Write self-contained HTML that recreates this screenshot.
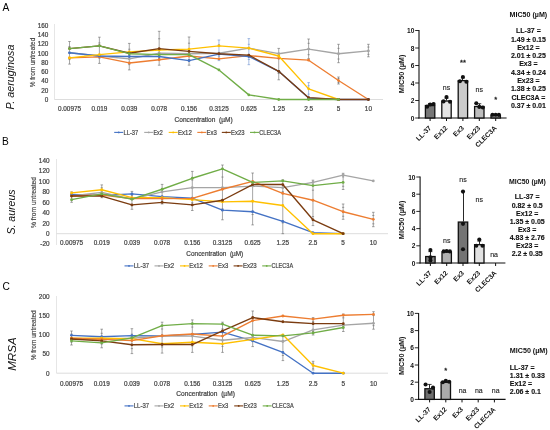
<!DOCTYPE html>
<html><head><meta charset="utf-8"><style>
html,body{margin:0;padding:0;background:#fff;overflow:hidden}
svg{display:block;font-family:"Liberation Sans", sans-serif;will-change:transform}
</style></head><body>
<svg width="550" height="430" viewBox="0 0 550 430">
<rect width="550" height="430" fill="#fff"/>
<line x1="54.5" y1="24" x2="54.5" y2="99.5" stroke="#dedede" stroke-width="0.75"/>
<line x1="54.5" y1="99.5" x2="383" y2="99.5" stroke="#d9d9d9" stroke-width="0.9"/>
<text x="48.30" y="101.80" font-size="6.4" text-anchor="end" font-weight="normal" font-style="normal" fill="#454545" stroke="#454545" stroke-width="0.22">0</text>
<text x="48.30" y="92.55" font-size="6.4" text-anchor="end" font-weight="normal" font-style="normal" fill="#454545" stroke="#454545" stroke-width="0.22">20</text>
<text x="48.30" y="83.30" font-size="6.4" text-anchor="end" font-weight="normal" font-style="normal" fill="#454545" stroke="#454545" stroke-width="0.22">40</text>
<text x="48.30" y="74.05" font-size="6.4" text-anchor="end" font-weight="normal" font-style="normal" fill="#454545" stroke="#454545" stroke-width="0.22">60</text>
<text x="48.30" y="64.80" font-size="6.4" text-anchor="end" font-weight="normal" font-style="normal" fill="#454545" stroke="#454545" stroke-width="0.22">80</text>
<text x="48.30" y="55.55" font-size="6.4" text-anchor="end" font-weight="normal" font-style="normal" fill="#454545" stroke="#454545" stroke-width="0.22">100</text>
<text x="48.30" y="46.30" font-size="6.4" text-anchor="end" font-weight="normal" font-style="normal" fill="#454545" stroke="#454545" stroke-width="0.22">120</text>
<text x="48.30" y="37.05" font-size="6.4" text-anchor="end" font-weight="normal" font-style="normal" fill="#454545" stroke="#454545" stroke-width="0.22">140</text>
<text x="48.30" y="27.80" font-size="6.4" text-anchor="end" font-weight="normal" font-style="normal" fill="#454545" stroke="#454545" stroke-width="0.22">160</text>
<text x="69.50" y="110.90" font-size="6.4" text-anchor="middle" font-weight="normal" font-style="normal" fill="#454545" stroke="#454545" stroke-width="0.22">0.00975</text>
<text x="99.39" y="110.90" font-size="6.4" text-anchor="middle" font-weight="normal" font-style="normal" fill="#454545" stroke="#454545" stroke-width="0.22">0.019</text>
<text x="129.28" y="110.90" font-size="6.4" text-anchor="middle" font-weight="normal" font-style="normal" fill="#454545" stroke="#454545" stroke-width="0.22">0.039</text>
<text x="159.17" y="110.90" font-size="6.4" text-anchor="middle" font-weight="normal" font-style="normal" fill="#454545" stroke="#454545" stroke-width="0.22">0.078</text>
<text x="189.06" y="110.90" font-size="6.4" text-anchor="middle" font-weight="normal" font-style="normal" fill="#454545" stroke="#454545" stroke-width="0.22">0.156</text>
<text x="218.95" y="110.90" font-size="6.4" text-anchor="middle" font-weight="normal" font-style="normal" fill="#454545" stroke="#454545" stroke-width="0.22">0.3125</text>
<text x="248.84" y="110.90" font-size="6.4" text-anchor="middle" font-weight="normal" font-style="normal" fill="#454545" stroke="#454545" stroke-width="0.22">0.625</text>
<text x="278.73" y="110.90" font-size="6.4" text-anchor="middle" font-weight="normal" font-style="normal" fill="#454545" stroke="#454545" stroke-width="0.22">1.25</text>
<text x="308.62" y="110.90" font-size="6.4" text-anchor="middle" font-weight="normal" font-style="normal" fill="#454545" stroke="#454545" stroke-width="0.22">2.5</text>
<text x="338.51" y="110.90" font-size="6.4" text-anchor="middle" font-weight="normal" font-style="normal" fill="#454545" stroke="#454545" stroke-width="0.22">5</text>
<text x="368.40" y="110.90" font-size="6.4" text-anchor="middle" font-weight="normal" font-style="normal" fill="#454545" stroke="#454545" stroke-width="0.22">10</text>
<text x="32.30" y="62.50" font-size="6.4" text-anchor="middle" font-weight="normal" font-style="normal" fill="#454545" stroke="#454545" stroke-width="0.15" textLength="49.5" lengthAdjust="spacingAndGlyphs" transform="rotate(-90 32.30 62.50)" dominant-baseline="central">% from untreated</text>
<text x="203.60" y="122.30" font-size="6.8" text-anchor="middle" font-weight="normal" font-style="normal" fill="#454545" stroke="#454545" stroke-width="0.22" textLength="58" lengthAdjust="spacingAndGlyphs">Concentration&#160;&#160;(µM)</text>
<line x1="114.2" y1="132.4" x2="123.2" y2="132.4" stroke="#4472C4" stroke-width="1.1"/>
<circle cx="118.7" cy="132.4" r="0.9" fill="#4472C4"/>
<text x="123.50" y="134.70" font-size="6.8" text-anchor="start" font-weight="normal" font-style="normal" fill="#454545" stroke="#454545" stroke-width="0.2" textLength="14.7" lengthAdjust="spacingAndGlyphs">LL-37</text>
<line x1="144.2" y1="132.4" x2="153.2" y2="132.4" stroke="#A5A5A5" stroke-width="1.1"/>
<circle cx="148.7" cy="132.4" r="0.9" fill="#A5A5A5"/>
<text x="153.50" y="134.70" font-size="6.8" text-anchor="start" font-weight="normal" font-style="normal" fill="#454545" stroke="#454545" stroke-width="0.2" textLength="9.2" lengthAdjust="spacingAndGlyphs">Ex2</text>
<line x1="168.7" y1="132.4" x2="177.7" y2="132.4" stroke="#FFC000" stroke-width="1.1"/>
<circle cx="173.2" cy="132.4" r="0.9" fill="#FFC000"/>
<text x="178.00" y="134.70" font-size="6.8" text-anchor="start" font-weight="normal" font-style="normal" fill="#454545" stroke="#454545" stroke-width="0.2" textLength="13.8" lengthAdjust="spacingAndGlyphs">Ex12</text>
<line x1="197.3" y1="132.4" x2="206.3" y2="132.4" stroke="#ED7D31" stroke-width="1.1"/>
<circle cx="201.8" cy="132.4" r="0.9" fill="#ED7D31"/>
<text x="206.60" y="134.70" font-size="6.8" text-anchor="start" font-weight="normal" font-style="normal" fill="#454545" stroke="#454545" stroke-width="0.2" textLength="10.3" lengthAdjust="spacingAndGlyphs">Ex3</text>
<line x1="221.8" y1="132.4" x2="230.8" y2="132.4" stroke="#7B3C10" stroke-width="1.1"/>
<circle cx="226.3" cy="132.4" r="0.9" fill="#7B3C10"/>
<text x="231.10" y="134.70" font-size="6.8" text-anchor="start" font-weight="normal" font-style="normal" fill="#454545" stroke="#454545" stroke-width="0.2" textLength="13.4" lengthAdjust="spacingAndGlyphs">Ex23</text>
<line x1="250" y1="132.4" x2="259" y2="132.4" stroke="#70AD47" stroke-width="1.1"/>
<circle cx="254.5" cy="132.4" r="0.9" fill="#70AD47"/>
<text x="259.30" y="134.70" font-size="6.8" text-anchor="start" font-weight="normal" font-style="normal" fill="#454545" stroke="#454545" stroke-width="0.2" textLength="21.6" lengthAdjust="spacingAndGlyphs">CLEC3A</text>
<g stroke="#6a6a6a" stroke-width="0.6"><line x1="69.5" y1="41.5" x2="69.5" y2="64.1"/><line x1="68.2" y1="41.5" x2="70.8" y2="41.5"/><line x1="68.2" y1="64.1" x2="70.8" y2="64.1"/><line x1="68.4" y1="46.47" x2="70.6" y2="46.47"/><line x1="68.4" y1="59.58" x2="70.6" y2="59.58"/></g>
<g stroke="#6a6a6a" stroke-width="0.6"><line x1="99.39" y1="37.2" x2="99.39" y2="63.4"/><line x1="98.09" y1="37.2" x2="100.69" y2="37.2"/><line x1="98.09" y1="63.4" x2="100.69" y2="63.4"/><line x1="98.29" y1="42.96" x2="100.49" y2="42.96"/><line x1="98.29" y1="58.16" x2="100.49" y2="58.16"/></g>
<g stroke="#6a6a6a" stroke-width="0.6"><line x1="129.28" y1="43.4" x2="129.28" y2="69.9"/><line x1="127.98" y1="43.4" x2="130.58" y2="43.4"/><line x1="127.98" y1="69.9" x2="130.58" y2="69.9"/><line x1="128.18" y1="49.23" x2="130.38" y2="49.23"/><line x1="128.18" y1="64.60" x2="130.38" y2="64.60"/></g>
<g stroke="#6a6a6a" stroke-width="0.6"><line x1="159.17000000000002" y1="31.3" x2="159.17000000000002" y2="65.2"/><line x1="157.87" y1="31.3" x2="160.47000000000003" y2="31.3"/><line x1="157.87" y1="65.2" x2="160.47000000000003" y2="65.2"/><line x1="158.07000000000002" y1="38.76" x2="160.27" y2="38.76"/><line x1="158.07000000000002" y1="58.42" x2="160.27" y2="58.42"/></g>
<g stroke="#6a6a6a" stroke-width="0.6"><line x1="189.06" y1="37" x2="189.06" y2="65.2"/><line x1="187.76" y1="37" x2="190.36" y2="37"/><line x1="187.76" y1="65.2" x2="190.36" y2="65.2"/><line x1="187.96" y1="43.20" x2="190.16" y2="43.20"/><line x1="187.96" y1="59.56" x2="190.16" y2="59.56"/></g>
<g stroke="#6a8fd0" stroke-width="0.6"><line x1="218.95" y1="40" x2="218.95" y2="60.6"/><line x1="217.64999999999998" y1="40" x2="220.25" y2="40"/><line x1="217.64999999999998" y1="60.6" x2="220.25" y2="60.6"/><line x1="217.85" y1="44.53" x2="220.04999999999998" y2="44.53"/><line x1="217.85" y1="56.48" x2="220.04999999999998" y2="56.48"/></g>
<g stroke="#6a8fd0" stroke-width="0.6"><line x1="248.84" y1="38.6" x2="248.84" y2="64.7"/><line x1="247.54" y1="38.6" x2="250.14000000000001" y2="38.6"/><line x1="247.54" y1="64.7" x2="250.14000000000001" y2="64.7"/><line x1="247.74" y1="44.34" x2="249.94" y2="44.34"/><line x1="247.74" y1="59.48" x2="249.94" y2="59.48"/></g>
<g stroke="#6a6a6a" stroke-width="0.6"><line x1="278.73" y1="48.4" x2="278.73" y2="79.8"/><line x1="277.43" y1="48.4" x2="280.03000000000003" y2="48.4"/><line x1="277.43" y1="79.8" x2="280.03000000000003" y2="79.8"/><line x1="277.63" y1="55.31" x2="279.83000000000004" y2="55.31"/><line x1="277.63" y1="73.52" x2="279.83000000000004" y2="73.52"/></g>
<g stroke="#6a6a6a" stroke-width="0.6"><line x1="308.62" y1="39" x2="308.62" y2="58.6"/><line x1="307.32" y1="39" x2="309.92" y2="39"/><line x1="307.32" y1="58.6" x2="309.92" y2="58.6"/><line x1="307.52" y1="43.31" x2="309.72" y2="43.31"/><line x1="307.52" y1="54.68" x2="309.72" y2="54.68"/></g>
<g stroke="#6a8fd0" stroke-width="0.6"><line x1="308.62" y1="82.6" x2="308.62" y2="97"/><line x1="307.32" y1="82.6" x2="309.92" y2="82.6"/><line x1="307.32" y1="97" x2="309.92" y2="97"/><line x1="307.52" y1="85.77" x2="309.72" y2="85.77"/><line x1="307.52" y1="94.12" x2="309.72" y2="94.12"/></g>
<g stroke="#6a6a6a" stroke-width="0.6"><line x1="338.51" y1="44.3" x2="338.51" y2="62.7"/><line x1="337.21" y1="44.3" x2="339.81" y2="44.3"/><line x1="337.21" y1="62.7" x2="339.81" y2="62.7"/><line x1="337.40999999999997" y1="48.35" x2="339.61" y2="48.35"/><line x1="337.40999999999997" y1="59.02" x2="339.61" y2="59.02"/></g>
<g stroke="#6a6a6a" stroke-width="0.6"><line x1="338.51" y1="77" x2="338.51" y2="84"/><line x1="337.21" y1="77" x2="339.81" y2="77"/><line x1="337.21" y1="84" x2="339.81" y2="84"/><line x1="337.40999999999997" y1="78.54" x2="339.61" y2="78.54"/><line x1="337.40999999999997" y1="82.60" x2="339.61" y2="82.60"/></g>
<g stroke="#6a6a6a" stroke-width="0.6"><line x1="368.4" y1="44.3" x2="368.4" y2="56.8"/><line x1="367.09999999999997" y1="44.3" x2="369.7" y2="44.3"/><line x1="367.09999999999997" y1="56.8" x2="369.7" y2="56.8"/><line x1="367.29999999999995" y1="47.05" x2="369.5" y2="47.05"/><line x1="367.29999999999995" y1="54.30" x2="369.5" y2="54.30"/></g>
<polyline points="69.50,52.79 99.39,56.02 129.28,58.80 159.17,53.25 189.06,53.71 218.95,53.25 248.84,48.16 278.73,53.71 308.62,49.09 338.51,53.71 368.40,50.94" fill="none" stroke="#A5A5A5" stroke-width="1.35" stroke-linejoin="round"/>
<circle cx="69.50" cy="52.79" r="1.4" fill="#A5A5A5"/>
<circle cx="99.39" cy="56.02" r="1.4" fill="#A5A5A5"/>
<circle cx="129.28" cy="58.80" r="1.4" fill="#A5A5A5"/>
<circle cx="159.17" cy="53.25" r="1.4" fill="#A5A5A5"/>
<circle cx="189.06" cy="53.71" r="1.4" fill="#A5A5A5"/>
<circle cx="218.95" cy="53.25" r="1.4" fill="#A5A5A5"/>
<circle cx="248.84" cy="48.16" r="1.4" fill="#A5A5A5"/>
<circle cx="278.73" cy="53.71" r="1.4" fill="#A5A5A5"/>
<circle cx="308.62" cy="49.09" r="1.4" fill="#A5A5A5"/>
<circle cx="338.51" cy="53.71" r="1.4" fill="#A5A5A5"/>
<circle cx="368.40" cy="50.94" r="1.4" fill="#A5A5A5"/>
<polyline points="69.50,57.88 99.39,56.95 129.28,62.96 159.17,59.73 189.06,56.02 218.95,58.80 248.84,55.56 278.73,58.34 308.62,60.19 338.51,80.54 368.40,99.50" fill="none" stroke="#ED7D31" stroke-width="1.35" stroke-linejoin="round"/>
<circle cx="69.50" cy="57.88" r="1.4" fill="#ED7D31"/>
<circle cx="99.39" cy="56.95" r="1.4" fill="#ED7D31"/>
<circle cx="129.28" cy="62.96" r="1.4" fill="#ED7D31"/>
<circle cx="159.17" cy="59.73" r="1.4" fill="#ED7D31"/>
<circle cx="189.06" cy="56.02" r="1.4" fill="#ED7D31"/>
<circle cx="218.95" cy="58.80" r="1.4" fill="#ED7D31"/>
<circle cx="248.84" cy="55.56" r="1.4" fill="#ED7D31"/>
<circle cx="278.73" cy="58.34" r="1.4" fill="#ED7D31"/>
<circle cx="308.62" cy="60.19" r="1.4" fill="#ED7D31"/>
<circle cx="338.51" cy="80.54" r="1.4" fill="#ED7D31"/>
<circle cx="368.40" cy="99.50" r="1.4" fill="#ED7D31"/>
<polyline points="69.50,52.79 99.39,56.02 129.28,56.49 159.17,56.49 189.06,60.65 218.95,54.17 248.84,56.49 278.73,71.29 308.62,98.11 338.51,99.50 368.40,99.50" fill="none" stroke="#4472C4" stroke-width="1.35" stroke-linejoin="round"/>
<circle cx="69.50" cy="52.79" r="1.4" fill="#4472C4"/>
<circle cx="99.39" cy="56.02" r="1.4" fill="#4472C4"/>
<circle cx="129.28" cy="56.49" r="1.4" fill="#4472C4"/>
<circle cx="159.17" cy="56.49" r="1.4" fill="#4472C4"/>
<circle cx="189.06" cy="60.65" r="1.4" fill="#4472C4"/>
<circle cx="218.95" cy="54.17" r="1.4" fill="#4472C4"/>
<circle cx="248.84" cy="56.49" r="1.4" fill="#4472C4"/>
<circle cx="278.73" cy="71.29" r="1.4" fill="#4472C4"/>
<circle cx="308.62" cy="98.11" r="1.4" fill="#4472C4"/>
<circle cx="338.51" cy="99.50" r="1.4" fill="#4472C4"/>
<circle cx="368.40" cy="99.50" r="1.4" fill="#4472C4"/>
<polyline points="69.50,57.88 99.39,54.64 129.28,51.86 159.17,50.01 189.06,49.09 218.95,45.85 248.84,48.16 278.73,56.02 308.62,88.86 338.51,99.50" fill="none" stroke="#FFC000" stroke-width="1.35" stroke-linejoin="round"/>
<circle cx="69.50" cy="57.88" r="1.4" fill="#FFC000"/>
<circle cx="99.39" cy="54.64" r="1.4" fill="#FFC000"/>
<circle cx="129.28" cy="51.86" r="1.4" fill="#FFC000"/>
<circle cx="159.17" cy="50.01" r="1.4" fill="#FFC000"/>
<circle cx="189.06" cy="49.09" r="1.4" fill="#FFC000"/>
<circle cx="218.95" cy="45.85" r="1.4" fill="#FFC000"/>
<circle cx="248.84" cy="48.16" r="1.4" fill="#FFC000"/>
<circle cx="278.73" cy="56.02" r="1.4" fill="#FFC000"/>
<circle cx="308.62" cy="88.86" r="1.4" fill="#FFC000"/>
<circle cx="338.51" cy="99.50" r="1.4" fill="#FFC000"/>
<polyline points="69.50,48.62 99.39,45.85 129.28,53.25 159.17,48.62 189.06,51.40 218.95,53.71 248.84,55.10 278.73,71.29 308.62,97.65 338.51,99.50 368.40,99.50" fill="none" stroke="#7B3C10" stroke-width="1.35" stroke-linejoin="round"/>
<circle cx="69.50" cy="48.62" r="1.4" fill="#7B3C10"/>
<circle cx="99.39" cy="45.85" r="1.4" fill="#7B3C10"/>
<circle cx="129.28" cy="53.25" r="1.4" fill="#7B3C10"/>
<circle cx="159.17" cy="48.62" r="1.4" fill="#7B3C10"/>
<circle cx="189.06" cy="51.40" r="1.4" fill="#7B3C10"/>
<circle cx="218.95" cy="53.71" r="1.4" fill="#7B3C10"/>
<circle cx="248.84" cy="55.10" r="1.4" fill="#7B3C10"/>
<circle cx="278.73" cy="71.29" r="1.4" fill="#7B3C10"/>
<circle cx="308.62" cy="97.65" r="1.4" fill="#7B3C10"/>
<circle cx="338.51" cy="99.50" r="1.4" fill="#7B3C10"/>
<circle cx="368.40" cy="99.50" r="1.4" fill="#7B3C10"/>
<polyline points="69.50,48.62 99.39,45.85 129.28,53.71 159.17,54.64 189.06,54.64 218.95,69.90 248.84,94.88 278.73,99.50 308.62,99.50 338.51,99.50" fill="none" stroke="#70AD47" stroke-width="1.35" stroke-linejoin="round"/>
<circle cx="69.50" cy="48.62" r="1.4" fill="#70AD47"/>
<circle cx="99.39" cy="45.85" r="1.4" fill="#70AD47"/>
<circle cx="129.28" cy="53.71" r="1.4" fill="#70AD47"/>
<circle cx="159.17" cy="54.64" r="1.4" fill="#70AD47"/>
<circle cx="189.06" cy="54.64" r="1.4" fill="#70AD47"/>
<circle cx="218.95" cy="69.90" r="1.4" fill="#70AD47"/>
<circle cx="248.84" cy="94.88" r="1.4" fill="#70AD47"/>
<circle cx="278.73" cy="99.50" r="1.4" fill="#70AD47"/>
<circle cx="308.62" cy="99.50" r="1.4" fill="#70AD47"/>
<circle cx="338.51" cy="99.50" r="1.4" fill="#70AD47"/>
<line x1="56.5" y1="159" x2="56.5" y2="245" stroke="#dedede" stroke-width="0.75"/>
<line x1="56.5" y1="233.7" x2="388" y2="233.7" stroke="#d9d9d9" stroke-width="0.9"/>
<text x="49.50" y="246.46" font-size="6.4" text-anchor="end" font-weight="normal" font-style="normal" fill="#454545" stroke="#454545" stroke-width="0.22">-20</text>
<text x="49.50" y="236.00" font-size="6.4" text-anchor="end" font-weight="normal" font-style="normal" fill="#454545" stroke="#454545" stroke-width="0.22">0</text>
<text x="49.50" y="225.54" font-size="6.4" text-anchor="end" font-weight="normal" font-style="normal" fill="#454545" stroke="#454545" stroke-width="0.22">20</text>
<text x="49.50" y="215.08" font-size="6.4" text-anchor="end" font-weight="normal" font-style="normal" fill="#454545" stroke="#454545" stroke-width="0.22">40</text>
<text x="49.50" y="204.62" font-size="6.4" text-anchor="end" font-weight="normal" font-style="normal" fill="#454545" stroke="#454545" stroke-width="0.22">60</text>
<text x="49.50" y="194.16" font-size="6.4" text-anchor="end" font-weight="normal" font-style="normal" fill="#454545" stroke="#454545" stroke-width="0.22">80</text>
<text x="49.50" y="183.70" font-size="6.4" text-anchor="end" font-weight="normal" font-style="normal" fill="#454545" stroke="#454545" stroke-width="0.22">100</text>
<text x="49.50" y="173.24" font-size="6.4" text-anchor="end" font-weight="normal" font-style="normal" fill="#454545" stroke="#454545" stroke-width="0.22">120</text>
<text x="49.50" y="162.78" font-size="6.4" text-anchor="end" font-weight="normal" font-style="normal" fill="#454545" stroke="#454545" stroke-width="0.22">140</text>
<text x="71.60" y="245.40" font-size="6.4" text-anchor="middle" font-weight="normal" font-style="normal" fill="#454545" stroke="#454545" stroke-width="0.22">0.00975</text>
<text x="101.77" y="245.40" font-size="6.4" text-anchor="middle" font-weight="normal" font-style="normal" fill="#454545" stroke="#454545" stroke-width="0.22">0.019</text>
<text x="131.94" y="245.40" font-size="6.4" text-anchor="middle" font-weight="normal" font-style="normal" fill="#454545" stroke="#454545" stroke-width="0.22">0.039</text>
<text x="162.11" y="245.40" font-size="6.4" text-anchor="middle" font-weight="normal" font-style="normal" fill="#454545" stroke="#454545" stroke-width="0.22">0.078</text>
<text x="192.28" y="245.40" font-size="6.4" text-anchor="middle" font-weight="normal" font-style="normal" fill="#454545" stroke="#454545" stroke-width="0.22">0.156</text>
<text x="222.45" y="245.40" font-size="6.4" text-anchor="middle" font-weight="normal" font-style="normal" fill="#454545" stroke="#454545" stroke-width="0.22">0.3125</text>
<text x="252.62" y="245.40" font-size="6.4" text-anchor="middle" font-weight="normal" font-style="normal" fill="#454545" stroke="#454545" stroke-width="0.22">0.625</text>
<text x="282.79" y="245.40" font-size="6.4" text-anchor="middle" font-weight="normal" font-style="normal" fill="#454545" stroke="#454545" stroke-width="0.22">1.25</text>
<text x="312.96" y="245.40" font-size="6.4" text-anchor="middle" font-weight="normal" font-style="normal" fill="#454545" stroke="#454545" stroke-width="0.22">2.5</text>
<text x="343.13" y="245.40" font-size="6.4" text-anchor="middle" font-weight="normal" font-style="normal" fill="#454545" stroke="#454545" stroke-width="0.22">5</text>
<text x="373.30" y="245.40" font-size="6.4" text-anchor="middle" font-weight="normal" font-style="normal" fill="#454545" stroke="#454545" stroke-width="0.22">10</text>
<text x="33.80" y="202.50" font-size="6.4" text-anchor="middle" font-weight="normal" font-style="normal" fill="#454545" stroke="#454545" stroke-width="0.15" textLength="51" lengthAdjust="spacingAndGlyphs" transform="rotate(-90 33.80 202.50)" dominant-baseline="central">% from untreated</text>
<text x="214.80" y="256.40" font-size="6.8" text-anchor="middle" font-weight="normal" font-style="normal" fill="#454545" stroke="#454545" stroke-width="0.22" textLength="56.9" lengthAdjust="spacingAndGlyphs">Concentration&#160;&#160;(µM)</text>
<line x1="124.5" y1="265.9" x2="133.5" y2="265.9" stroke="#4472C4" stroke-width="1.1"/>
<circle cx="129.0" cy="265.9" r="0.9" fill="#4472C4"/>
<text x="133.80" y="268.20" font-size="6.8" text-anchor="start" font-weight="normal" font-style="normal" fill="#454545" stroke="#454545" stroke-width="0.2" textLength="15.3" lengthAdjust="spacingAndGlyphs">LL-37</text>
<line x1="154.5" y1="265.9" x2="163.5" y2="265.9" stroke="#A5A5A5" stroke-width="1.1"/>
<circle cx="159.0" cy="265.9" r="0.9" fill="#A5A5A5"/>
<text x="163.80" y="268.20" font-size="6.8" text-anchor="start" font-weight="normal" font-style="normal" fill="#454545" stroke="#454545" stroke-width="0.2" textLength="10.4" lengthAdjust="spacingAndGlyphs">Ex2</text>
<line x1="180" y1="265.9" x2="189" y2="265.9" stroke="#FFC000" stroke-width="1.1"/>
<circle cx="184.5" cy="265.9" r="0.9" fill="#FFC000"/>
<text x="189.30" y="268.20" font-size="6.8" text-anchor="start" font-weight="normal" font-style="normal" fill="#454545" stroke="#454545" stroke-width="0.2" textLength="13.4" lengthAdjust="spacingAndGlyphs">Ex12</text>
<line x1="208.7" y1="265.9" x2="217.7" y2="265.9" stroke="#ED7D31" stroke-width="1.1"/>
<circle cx="213.2" cy="265.9" r="0.9" fill="#ED7D31"/>
<text x="218.00" y="268.20" font-size="6.8" text-anchor="start" font-weight="normal" font-style="normal" fill="#454545" stroke="#454545" stroke-width="0.2" textLength="10.2" lengthAdjust="spacingAndGlyphs">Ex3</text>
<line x1="233.6" y1="265.9" x2="242.6" y2="265.9" stroke="#7B3C10" stroke-width="1.1"/>
<circle cx="238.1" cy="265.9" r="0.9" fill="#7B3C10"/>
<text x="242.90" y="268.20" font-size="6.8" text-anchor="start" font-weight="normal" font-style="normal" fill="#454545" stroke="#454545" stroke-width="0.2" textLength="13.8" lengthAdjust="spacingAndGlyphs">Ex23</text>
<line x1="262.2" y1="265.9" x2="271.2" y2="265.9" stroke="#70AD47" stroke-width="1.1"/>
<circle cx="266.7" cy="265.9" r="0.9" fill="#70AD47"/>
<text x="271.50" y="268.20" font-size="6.8" text-anchor="start" font-weight="normal" font-style="normal" fill="#454545" stroke="#454545" stroke-width="0.2" textLength="21.6" lengthAdjust="spacingAndGlyphs">CLEC3A</text>
<g stroke="#6a6a6a" stroke-width="0.6"><line x1="71.6" y1="191.9" x2="71.6" y2="202.3"/><line x1="70.3" y1="191.9" x2="72.89999999999999" y2="191.9"/><line x1="70.3" y1="202.3" x2="72.89999999999999" y2="202.3"/><line x1="70.5" y1="194.19" x2="72.69999999999999" y2="194.19"/><line x1="70.5" y1="200.22" x2="72.69999999999999" y2="200.22"/></g>
<g stroke="#6a6a6a" stroke-width="0.6"><line x1="101.77" y1="184.9" x2="101.77" y2="197.7"/><line x1="100.47" y1="184.9" x2="103.07" y2="184.9"/><line x1="100.47" y1="197.7" x2="103.07" y2="197.7"/><line x1="100.67" y1="187.72" x2="102.86999999999999" y2="187.72"/><line x1="100.67" y1="195.14" x2="102.86999999999999" y2="195.14"/></g>
<g stroke="#6a6a6a" stroke-width="0.6"><line x1="131.94" y1="191.4" x2="131.94" y2="209.3"/><line x1="130.64" y1="191.4" x2="133.24" y2="191.4"/><line x1="130.64" y1="209.3" x2="133.24" y2="209.3"/><line x1="130.84" y1="195.34" x2="133.04" y2="195.34"/><line x1="130.84" y1="205.72" x2="133.04" y2="205.72"/></g>
<g stroke="#6a6a6a" stroke-width="0.6"><line x1="162.11" y1="184.4" x2="162.11" y2="204"/><line x1="160.81" y1="184.4" x2="163.41000000000003" y2="184.4"/><line x1="160.81" y1="204" x2="163.41000000000003" y2="204"/><line x1="161.01000000000002" y1="188.71" x2="163.21" y2="188.71"/><line x1="161.01000000000002" y1="200.08" x2="163.21" y2="200.08"/></g>
<g stroke="#6a6a6a" stroke-width="0.6"><line x1="192.28" y1="171.4" x2="192.28" y2="210.5"/><line x1="190.98" y1="171.4" x2="193.58" y2="171.4"/><line x1="190.98" y1="210.5" x2="193.58" y2="210.5"/><line x1="191.18" y1="180.00" x2="193.38" y2="180.00"/><line x1="191.18" y1="202.68" x2="193.38" y2="202.68"/></g>
<g stroke="#6a6a6a" stroke-width="0.6"><line x1="222.45000000000002" y1="165" x2="222.45000000000002" y2="219.8"/><line x1="221.15" y1="165" x2="223.75000000000003" y2="165"/><line x1="221.15" y1="219.8" x2="223.75000000000003" y2="219.8"/><line x1="221.35000000000002" y1="177.06" x2="223.55" y2="177.06"/><line x1="221.35000000000002" y1="208.84" x2="223.55" y2="208.84"/></g>
<g stroke="#6a6a6a" stroke-width="0.6"><line x1="252.62" y1="173" x2="252.62" y2="224.9"/><line x1="251.32" y1="173" x2="253.92000000000002" y2="173"/><line x1="251.32" y1="224.9" x2="253.92000000000002" y2="224.9"/><line x1="251.52" y1="184.42" x2="253.72" y2="184.42"/><line x1="251.52" y1="214.52" x2="253.72" y2="214.52"/></g>
<g stroke="#6a6a6a" stroke-width="0.6"><line x1="282.78999999999996" y1="179.8" x2="282.78999999999996" y2="233.7"/><line x1="281.48999999999995" y1="179.8" x2="284.09" y2="179.8"/><line x1="281.48999999999995" y1="233.7" x2="284.09" y2="233.7"/><line x1="281.68999999999994" y1="191.66" x2="283.89" y2="191.66"/><line x1="281.68999999999994" y1="222.92" x2="283.89" y2="222.92"/></g>
<g stroke="#6a6a6a" stroke-width="0.6"><line x1="312.96000000000004" y1="180.2" x2="312.96000000000004" y2="225.6"/><line x1="311.66" y1="180.2" x2="314.26000000000005" y2="180.2"/><line x1="311.66" y1="225.6" x2="314.26000000000005" y2="225.6"/><line x1="311.86" y1="190.19" x2="314.06000000000006" y2="190.19"/><line x1="311.86" y1="216.52" x2="314.06000000000006" y2="216.52"/></g>
<g stroke="#6a6a6a" stroke-width="0.6"><line x1="343.13" y1="173.3" x2="343.13" y2="189.5"/><line x1="341.83" y1="173.3" x2="344.43" y2="173.3"/><line x1="341.83" y1="189.5" x2="344.43" y2="189.5"/><line x1="342.03" y1="176.86" x2="344.23" y2="176.86"/><line x1="342.03" y1="186.26" x2="344.23" y2="186.26"/></g>
<g stroke="#6a6a6a" stroke-width="0.6"><line x1="343.13" y1="204" x2="343.13" y2="219.3"/><line x1="341.83" y1="204" x2="344.43" y2="204"/><line x1="341.83" y1="219.3" x2="344.43" y2="219.3"/><line x1="342.03" y1="207.37" x2="344.23" y2="207.37"/><line x1="342.03" y1="216.24" x2="344.23" y2="216.24"/></g>
<g stroke="#6a6a6a" stroke-width="0.6"><line x1="373.30000000000007" y1="212.3" x2="373.30000000000007" y2="226.7"/><line x1="372.00000000000006" y1="212.3" x2="374.6000000000001" y2="212.3"/><line x1="372.00000000000006" y1="226.7" x2="374.6000000000001" y2="226.7"/><line x1="372.20000000000005" y1="215.47" x2="374.4000000000001" y2="215.47"/><line x1="372.20000000000005" y1="223.82" x2="374.4000000000001" y2="223.82"/></g>
<polyline points="71.60,194.47 101.77,195.52 131.94,193.95 162.11,196.57 192.28,198.14 222.45,210.16 252.62,211.73 282.79,221.41 312.96,232.65 343.13,233.70" fill="none" stroke="#4472C4" stroke-width="1.35" stroke-linejoin="round"/>
<circle cx="71.60" cy="194.47" r="1.4" fill="#4472C4"/>
<circle cx="101.77" cy="195.52" r="1.4" fill="#4472C4"/>
<circle cx="131.94" cy="193.95" r="1.4" fill="#4472C4"/>
<circle cx="162.11" cy="196.57" r="1.4" fill="#4472C4"/>
<circle cx="192.28" cy="198.14" r="1.4" fill="#4472C4"/>
<circle cx="222.45" cy="210.16" r="1.4" fill="#4472C4"/>
<circle cx="252.62" cy="211.73" r="1.4" fill="#4472C4"/>
<circle cx="282.79" cy="221.41" r="1.4" fill="#4472C4"/>
<circle cx="312.96" cy="232.65" r="1.4" fill="#4472C4"/>
<circle cx="343.13" cy="233.70" r="1.4" fill="#4472C4"/>
<polyline points="71.60,196.04 101.77,192.38 131.94,199.18 162.11,191.86 192.28,187.68 222.45,187.68 252.62,186.11 282.79,187.68 312.96,182.45 343.13,175.12 373.30,180.88" fill="none" stroke="#A5A5A5" stroke-width="1.35" stroke-linejoin="round"/>
<circle cx="71.60" cy="196.04" r="1.4" fill="#A5A5A5"/>
<circle cx="101.77" cy="192.38" r="1.4" fill="#A5A5A5"/>
<circle cx="131.94" cy="199.18" r="1.4" fill="#A5A5A5"/>
<circle cx="162.11" cy="191.86" r="1.4" fill="#A5A5A5"/>
<circle cx="192.28" cy="187.68" r="1.4" fill="#A5A5A5"/>
<circle cx="222.45" cy="187.68" r="1.4" fill="#A5A5A5"/>
<circle cx="252.62" cy="186.11" r="1.4" fill="#A5A5A5"/>
<circle cx="282.79" cy="187.68" r="1.4" fill="#A5A5A5"/>
<circle cx="312.96" cy="182.45" r="1.4" fill="#A5A5A5"/>
<circle cx="343.13" cy="175.12" r="1.4" fill="#A5A5A5"/>
<circle cx="373.30" cy="180.88" r="1.4" fill="#A5A5A5"/>
<polyline points="71.60,192.91 101.77,189.77 131.94,197.61 162.11,197.61 192.28,199.70 222.45,201.80 252.62,201.27 282.79,205.46 312.96,233.70 343.13,233.70" fill="none" stroke="#FFC000" stroke-width="1.35" stroke-linejoin="round"/>
<circle cx="71.60" cy="192.91" r="1.4" fill="#FFC000"/>
<circle cx="101.77" cy="189.77" r="1.4" fill="#FFC000"/>
<circle cx="131.94" cy="197.61" r="1.4" fill="#FFC000"/>
<circle cx="162.11" cy="197.61" r="1.4" fill="#FFC000"/>
<circle cx="192.28" cy="199.70" r="1.4" fill="#FFC000"/>
<circle cx="222.45" cy="201.80" r="1.4" fill="#FFC000"/>
<circle cx="252.62" cy="201.27" r="1.4" fill="#FFC000"/>
<circle cx="282.79" cy="205.46" r="1.4" fill="#FFC000"/>
<circle cx="312.96" cy="233.70" r="1.4" fill="#FFC000"/>
<circle cx="343.13" cy="233.70" r="1.4" fill="#FFC000"/>
<polyline points="71.60,196.04 101.77,195.00 131.94,198.66 162.11,198.66 192.28,198.40 222.45,189.25 252.62,181.40 282.79,193.43 312.96,200.23 343.13,211.73 373.30,219.32" fill="none" stroke="#ED7D31" stroke-width="1.35" stroke-linejoin="round"/>
<circle cx="71.60" cy="196.04" r="1.4" fill="#ED7D31"/>
<circle cx="101.77" cy="195.00" r="1.4" fill="#ED7D31"/>
<circle cx="131.94" cy="198.66" r="1.4" fill="#ED7D31"/>
<circle cx="162.11" cy="198.66" r="1.4" fill="#ED7D31"/>
<circle cx="192.28" cy="198.40" r="1.4" fill="#ED7D31"/>
<circle cx="222.45" cy="189.25" r="1.4" fill="#ED7D31"/>
<circle cx="252.62" cy="181.40" r="1.4" fill="#ED7D31"/>
<circle cx="282.79" cy="193.43" r="1.4" fill="#ED7D31"/>
<circle cx="312.96" cy="200.23" r="1.4" fill="#ED7D31"/>
<circle cx="343.13" cy="211.73" r="1.4" fill="#ED7D31"/>
<circle cx="373.30" cy="219.32" r="1.4" fill="#ED7D31"/>
<polyline points="71.60,196.04 101.77,196.04 131.94,204.94 162.11,202.32 192.28,204.94 222.45,200.23 252.62,184.54 282.79,184.54 312.96,219.79 343.13,233.70" fill="none" stroke="#7B3C10" stroke-width="1.35" stroke-linejoin="round"/>
<circle cx="71.60" cy="196.04" r="1.4" fill="#7B3C10"/>
<circle cx="101.77" cy="196.04" r="1.4" fill="#7B3C10"/>
<circle cx="131.94" cy="204.94" r="1.4" fill="#7B3C10"/>
<circle cx="162.11" cy="202.32" r="1.4" fill="#7B3C10"/>
<circle cx="192.28" cy="204.94" r="1.4" fill="#7B3C10"/>
<circle cx="222.45" cy="200.23" r="1.4" fill="#7B3C10"/>
<circle cx="252.62" cy="184.54" r="1.4" fill="#7B3C10"/>
<circle cx="282.79" cy="184.54" r="1.4" fill="#7B3C10"/>
<circle cx="312.96" cy="219.79" r="1.4" fill="#7B3C10"/>
<circle cx="343.13" cy="233.70" r="1.4" fill="#7B3C10"/>
<polyline points="71.60,199.70 101.77,193.95 131.94,199.18 162.11,189.25 192.28,178.26 222.45,168.85 252.62,182.45 282.79,180.88 312.96,185.58 343.13,182.45" fill="none" stroke="#70AD47" stroke-width="1.35" stroke-linejoin="round"/>
<circle cx="71.60" cy="199.70" r="1.4" fill="#70AD47"/>
<circle cx="101.77" cy="193.95" r="1.4" fill="#70AD47"/>
<circle cx="131.94" cy="199.18" r="1.4" fill="#70AD47"/>
<circle cx="162.11" cy="189.25" r="1.4" fill="#70AD47"/>
<circle cx="192.28" cy="178.26" r="1.4" fill="#70AD47"/>
<circle cx="222.45" cy="168.85" r="1.4" fill="#70AD47"/>
<circle cx="252.62" cy="182.45" r="1.4" fill="#70AD47"/>
<circle cx="282.79" cy="180.88" r="1.4" fill="#70AD47"/>
<circle cx="312.96" cy="185.58" r="1.4" fill="#70AD47"/>
<circle cx="343.13" cy="182.45" r="1.4" fill="#70AD47"/>
<line x1="56.5" y1="296" x2="56.5" y2="373.2" stroke="#dedede" stroke-width="0.75"/>
<line x1="56.5" y1="373.2" x2="388" y2="373.2" stroke="#d9d9d9" stroke-width="0.9"/>
<text x="49.50" y="375.50" font-size="6.4" text-anchor="end" font-weight="normal" font-style="normal" fill="#454545" stroke="#454545" stroke-width="0.22">0</text>
<text x="49.50" y="356.30" font-size="6.4" text-anchor="end" font-weight="normal" font-style="normal" fill="#454545" stroke="#454545" stroke-width="0.22">50</text>
<text x="49.50" y="337.10" font-size="6.4" text-anchor="end" font-weight="normal" font-style="normal" fill="#454545" stroke="#454545" stroke-width="0.22">100</text>
<text x="49.50" y="317.90" font-size="6.4" text-anchor="end" font-weight="normal" font-style="normal" fill="#454545" stroke="#454545" stroke-width="0.22">150</text>
<text x="49.50" y="298.70" font-size="6.4" text-anchor="end" font-weight="normal" font-style="normal" fill="#454545" stroke="#454545" stroke-width="0.22">200</text>
<text x="71.50" y="385.50" font-size="6.4" text-anchor="middle" font-weight="normal" font-style="normal" fill="#454545" stroke="#454545" stroke-width="0.22">0.00975</text>
<text x="101.70" y="385.50" font-size="6.4" text-anchor="middle" font-weight="normal" font-style="normal" fill="#454545" stroke="#454545" stroke-width="0.22">0.019</text>
<text x="131.90" y="385.50" font-size="6.4" text-anchor="middle" font-weight="normal" font-style="normal" fill="#454545" stroke="#454545" stroke-width="0.22">0.039</text>
<text x="162.10" y="385.50" font-size="6.4" text-anchor="middle" font-weight="normal" font-style="normal" fill="#454545" stroke="#454545" stroke-width="0.22">0.078</text>
<text x="192.30" y="385.50" font-size="6.4" text-anchor="middle" font-weight="normal" font-style="normal" fill="#454545" stroke="#454545" stroke-width="0.22">0.156</text>
<text x="222.50" y="385.50" font-size="6.4" text-anchor="middle" font-weight="normal" font-style="normal" fill="#454545" stroke="#454545" stroke-width="0.22">0.3125</text>
<text x="252.70" y="385.50" font-size="6.4" text-anchor="middle" font-weight="normal" font-style="normal" fill="#454545" stroke="#454545" stroke-width="0.22">0.625</text>
<text x="282.90" y="385.50" font-size="6.4" text-anchor="middle" font-weight="normal" font-style="normal" fill="#454545" stroke="#454545" stroke-width="0.22">1.25</text>
<text x="313.10" y="385.50" font-size="6.4" text-anchor="middle" font-weight="normal" font-style="normal" fill="#454545" stroke="#454545" stroke-width="0.22">2.5</text>
<text x="343.30" y="385.50" font-size="6.4" text-anchor="middle" font-weight="normal" font-style="normal" fill="#454545" stroke="#454545" stroke-width="0.22">5</text>
<text x="373.50" y="385.50" font-size="6.4" text-anchor="middle" font-weight="normal" font-style="normal" fill="#454545" stroke="#454545" stroke-width="0.22">10</text>
<text x="34.00" y="335.30" font-size="6.4" text-anchor="middle" font-weight="normal" font-style="normal" fill="#454545" stroke="#454545" stroke-width="0.15" textLength="50" lengthAdjust="spacingAndGlyphs" transform="rotate(-90 34.00 335.30)" dominant-baseline="central">% from untreated</text>
<text x="205.60" y="395.80" font-size="6.8" text-anchor="middle" font-weight="normal" font-style="normal" fill="#454545" stroke="#454545" stroke-width="0.22" textLength="58.5" lengthAdjust="spacingAndGlyphs">Concentration&#160;&#160;(µM)</text>
<line x1="124.5" y1="405.9" x2="133.5" y2="405.9" stroke="#4472C4" stroke-width="1.1"/>
<circle cx="129.0" cy="405.9" r="0.9" fill="#4472C4"/>
<text x="133.80" y="408.20" font-size="6.8" text-anchor="start" font-weight="normal" font-style="normal" fill="#454545" stroke="#454545" stroke-width="0.2" textLength="15.3" lengthAdjust="spacingAndGlyphs">LL-37</text>
<line x1="154.5" y1="405.9" x2="163.5" y2="405.9" stroke="#A5A5A5" stroke-width="1.1"/>
<circle cx="159.0" cy="405.9" r="0.9" fill="#A5A5A5"/>
<text x="163.80" y="408.20" font-size="6.8" text-anchor="start" font-weight="normal" font-style="normal" fill="#454545" stroke="#454545" stroke-width="0.2" textLength="10.4" lengthAdjust="spacingAndGlyphs">Ex2</text>
<line x1="180" y1="405.9" x2="189" y2="405.9" stroke="#FFC000" stroke-width="1.1"/>
<circle cx="184.5" cy="405.9" r="0.9" fill="#FFC000"/>
<text x="189.30" y="408.20" font-size="6.8" text-anchor="start" font-weight="normal" font-style="normal" fill="#454545" stroke="#454545" stroke-width="0.2" textLength="13.4" lengthAdjust="spacingAndGlyphs">Ex12</text>
<line x1="208.7" y1="405.9" x2="217.7" y2="405.9" stroke="#ED7D31" stroke-width="1.1"/>
<circle cx="213.2" cy="405.9" r="0.9" fill="#ED7D31"/>
<text x="218.00" y="408.20" font-size="6.8" text-anchor="start" font-weight="normal" font-style="normal" fill="#454545" stroke="#454545" stroke-width="0.2" textLength="10.2" lengthAdjust="spacingAndGlyphs">Ex3</text>
<line x1="234.2" y1="405.9" x2="243.2" y2="405.9" stroke="#7B3C10" stroke-width="1.1"/>
<circle cx="238.7" cy="405.9" r="0.9" fill="#7B3C10"/>
<text x="243.50" y="408.20" font-size="6.8" text-anchor="start" font-weight="normal" font-style="normal" fill="#454545" stroke="#454545" stroke-width="0.2" textLength="13.2" lengthAdjust="spacingAndGlyphs">Ex23</text>
<line x1="262.7" y1="405.9" x2="271.7" y2="405.9" stroke="#70AD47" stroke-width="1.1"/>
<circle cx="267.2" cy="405.9" r="0.9" fill="#70AD47"/>
<text x="272.00" y="408.20" font-size="6.8" text-anchor="start" font-weight="normal" font-style="normal" fill="#454545" stroke="#454545" stroke-width="0.2" textLength="21.6" lengthAdjust="spacingAndGlyphs">CLEC3A</text>
<g stroke="#6a6a6a" stroke-width="0.6"><line x1="71.5" y1="331" x2="71.5" y2="345"/><line x1="70.2" y1="331" x2="72.8" y2="331"/><line x1="70.2" y1="345" x2="72.8" y2="345"/><line x1="70.4" y1="334.08" x2="72.6" y2="334.08"/><line x1="70.4" y1="342.20" x2="72.6" y2="342.20"/></g>
<g stroke="#6a6a6a" stroke-width="0.6"><line x1="101.7" y1="329.2" x2="101.7" y2="347.8"/><line x1="100.4" y1="329.2" x2="103.0" y2="329.2"/><line x1="100.4" y1="347.8" x2="103.0" y2="347.8"/><line x1="100.60000000000001" y1="333.29" x2="102.8" y2="333.29"/><line x1="100.60000000000001" y1="344.08" x2="102.8" y2="344.08"/></g>
<g stroke="#6a6a6a" stroke-width="0.6"><line x1="131.9" y1="328.7" x2="131.9" y2="353.6"/><line x1="130.6" y1="328.7" x2="133.20000000000002" y2="328.7"/><line x1="130.6" y1="353.6" x2="133.20000000000002" y2="353.6"/><line x1="130.8" y1="334.18" x2="133.0" y2="334.18"/><line x1="130.8" y1="348.62" x2="133.0" y2="348.62"/></g>
<g stroke="#6a6a6a" stroke-width="0.6"><line x1="162.1" y1="322.2" x2="162.1" y2="353.1"/><line x1="160.79999999999998" y1="322.2" x2="163.4" y2="322.2"/><line x1="160.79999999999998" y1="353.1" x2="163.4" y2="353.1"/><line x1="161.0" y1="329.00" x2="163.2" y2="329.00"/><line x1="161.0" y1="346.92" x2="163.2" y2="346.92"/></g>
<g stroke="#6a6a6a" stroke-width="0.6"><line x1="192.3" y1="319.9" x2="192.3" y2="352.4"/><line x1="191.0" y1="319.9" x2="193.60000000000002" y2="319.9"/><line x1="191.0" y1="352.4" x2="193.60000000000002" y2="352.4"/><line x1="191.20000000000002" y1="327.05" x2="193.4" y2="327.05"/><line x1="191.20000000000002" y1="345.90" x2="193.4" y2="345.90"/></g>
<g stroke="#6a6a6a" stroke-width="0.6"><line x1="222.5" y1="322.2" x2="222.5" y2="352.4"/><line x1="221.2" y1="322.2" x2="223.8" y2="322.2"/><line x1="221.2" y1="352.4" x2="223.8" y2="352.4"/><line x1="221.4" y1="328.84" x2="223.6" y2="328.84"/><line x1="221.4" y1="346.36" x2="223.6" y2="346.36"/></g>
<g stroke="#6a6a6a" stroke-width="0.6"><line x1="252.7" y1="311" x2="252.7" y2="346.6"/><line x1="251.39999999999998" y1="311" x2="254.0" y2="311"/><line x1="251.39999999999998" y1="346.6" x2="254.0" y2="346.6"/><line x1="251.6" y1="318.83" x2="253.79999999999998" y2="318.83"/><line x1="251.6" y1="339.48" x2="253.79999999999998" y2="339.48"/></g>
<g stroke="#6a6a6a" stroke-width="0.6"><line x1="282.9" y1="335" x2="282.9" y2="360.6"/><line x1="281.59999999999997" y1="335" x2="284.2" y2="335"/><line x1="281.59999999999997" y1="360.6" x2="284.2" y2="360.6"/><line x1="281.79999999999995" y1="340.63" x2="284.0" y2="340.63"/><line x1="281.79999999999995" y1="355.48" x2="284.0" y2="355.48"/></g>
<g stroke="#6a6a6a" stroke-width="0.6"><line x1="313.1" y1="317.6" x2="313.1" y2="335"/><line x1="311.8" y1="317.6" x2="314.40000000000003" y2="317.6"/><line x1="311.8" y1="335" x2="314.40000000000003" y2="335"/><line x1="312.0" y1="321.43" x2="314.20000000000005" y2="321.43"/><line x1="312.0" y1="331.52" x2="314.20000000000005" y2="331.52"/></g>
<g stroke="#6a6a6a" stroke-width="0.6"><line x1="313.1" y1="361.3" x2="313.1" y2="370"/><line x1="311.8" y1="361.3" x2="314.40000000000003" y2="361.3"/><line x1="311.8" y1="370" x2="314.40000000000003" y2="370"/><line x1="312.0" y1="363.21" x2="314.20000000000005" y2="363.21"/><line x1="312.0" y1="368.26" x2="314.20000000000005" y2="368.26"/></g>
<g stroke="#6a6a6a" stroke-width="0.6"><line x1="343.3" y1="314" x2="343.3" y2="331.5"/><line x1="342.0" y1="314" x2="344.6" y2="314"/><line x1="342.0" y1="331.5" x2="344.6" y2="331.5"/><line x1="342.2" y1="317.85" x2="344.40000000000003" y2="317.85"/><line x1="342.2" y1="328.00" x2="344.40000000000003" y2="328.00"/></g>
<g stroke="#6a6a6a" stroke-width="0.6"><line x1="373.5" y1="311.7" x2="373.5" y2="329.2"/><line x1="372.2" y1="311.7" x2="374.8" y2="311.7"/><line x1="372.2" y1="329.2" x2="374.8" y2="329.2"/><line x1="372.4" y1="315.55" x2="374.6" y2="315.55"/><line x1="372.4" y1="325.70" x2="374.6" y2="325.70"/></g>
<polyline points="71.50,335.34 101.70,336.72 131.90,335.57 162.10,335.95 192.30,334.42 222.50,332.11 252.70,340.94 282.90,352.46 313.10,373.20 343.30,373.20" fill="none" stroke="#4472C4" stroke-width="1.35" stroke-linejoin="round"/>
<circle cx="71.50" cy="335.34" r="1.4" fill="#4472C4"/>
<circle cx="101.70" cy="336.72" r="1.4" fill="#4472C4"/>
<circle cx="131.90" cy="335.57" r="1.4" fill="#4472C4"/>
<circle cx="162.10" cy="335.95" r="1.4" fill="#4472C4"/>
<circle cx="192.30" cy="334.42" r="1.4" fill="#4472C4"/>
<circle cx="222.50" cy="332.11" r="1.4" fill="#4472C4"/>
<circle cx="252.70" cy="340.94" r="1.4" fill="#4472C4"/>
<circle cx="282.90" cy="352.46" r="1.4" fill="#4472C4"/>
<circle cx="313.10" cy="373.20" r="1.4" fill="#4472C4"/>
<circle cx="343.30" cy="373.20" r="1.4" fill="#4472C4"/>
<polyline points="71.50,339.41 101.70,339.41 131.90,338.26 162.10,335.95 192.30,336.11 222.50,340.29 252.70,337.49 282.90,341.52 313.10,329.81 343.30,325.20 373.50,323.28" fill="none" stroke="#A5A5A5" stroke-width="1.35" stroke-linejoin="round"/>
<circle cx="71.50" cy="339.41" r="1.4" fill="#A5A5A5"/>
<circle cx="101.70" cy="339.41" r="1.4" fill="#A5A5A5"/>
<circle cx="131.90" cy="338.26" r="1.4" fill="#A5A5A5"/>
<circle cx="162.10" cy="335.95" r="1.4" fill="#A5A5A5"/>
<circle cx="192.30" cy="336.11" r="1.4" fill="#A5A5A5"/>
<circle cx="222.50" cy="340.29" r="1.4" fill="#A5A5A5"/>
<circle cx="252.70" cy="337.49" r="1.4" fill="#A5A5A5"/>
<circle cx="282.90" cy="341.52" r="1.4" fill="#A5A5A5"/>
<circle cx="313.10" cy="329.81" r="1.4" fill="#A5A5A5"/>
<circle cx="343.30" cy="325.20" r="1.4" fill="#A5A5A5"/>
<circle cx="373.50" cy="323.28" r="1.4" fill="#A5A5A5"/>
<polyline points="71.50,338.26 101.70,338.26 131.90,338.64 162.10,343.79 192.30,342.21 222.50,343.79 252.70,339.41 282.90,334.80 313.10,365.52 343.30,373.20" fill="none" stroke="#FFC000" stroke-width="1.35" stroke-linejoin="round"/>
<circle cx="71.50" cy="338.26" r="1.4" fill="#FFC000"/>
<circle cx="101.70" cy="338.26" r="1.4" fill="#FFC000"/>
<circle cx="131.90" cy="338.64" r="1.4" fill="#FFC000"/>
<circle cx="162.10" cy="343.79" r="1.4" fill="#FFC000"/>
<circle cx="192.30" cy="342.21" r="1.4" fill="#FFC000"/>
<circle cx="222.50" cy="343.79" r="1.4" fill="#FFC000"/>
<circle cx="252.70" cy="339.41" r="1.4" fill="#FFC000"/>
<circle cx="282.90" cy="334.80" r="1.4" fill="#FFC000"/>
<circle cx="313.10" cy="365.52" r="1.4" fill="#FFC000"/>
<circle cx="343.30" cy="373.20" r="1.4" fill="#FFC000"/>
<polyline points="71.50,338.26 101.70,339.41 131.90,340.56 162.10,335.72 192.30,334.03 222.50,336.11 252.70,320.59 282.90,315.98 313.10,319.06 343.30,315.22 373.50,314.45" fill="none" stroke="#ED7D31" stroke-width="1.35" stroke-linejoin="round"/>
<circle cx="71.50" cy="338.26" r="1.4" fill="#ED7D31"/>
<circle cx="101.70" cy="339.41" r="1.4" fill="#ED7D31"/>
<circle cx="131.90" cy="340.56" r="1.4" fill="#ED7D31"/>
<circle cx="162.10" cy="335.72" r="1.4" fill="#ED7D31"/>
<circle cx="192.30" cy="334.03" r="1.4" fill="#ED7D31"/>
<circle cx="222.50" cy="336.11" r="1.4" fill="#ED7D31"/>
<circle cx="252.70" cy="320.59" r="1.4" fill="#ED7D31"/>
<circle cx="282.90" cy="315.98" r="1.4" fill="#ED7D31"/>
<circle cx="313.10" cy="319.06" r="1.4" fill="#ED7D31"/>
<circle cx="343.30" cy="315.22" r="1.4" fill="#ED7D31"/>
<circle cx="373.50" cy="314.45" r="1.4" fill="#ED7D31"/>
<polyline points="71.50,339.02 101.70,340.94 131.90,344.78 162.10,344.52 192.30,344.52 222.50,330.96 252.70,317.52 282.90,321.74 313.10,323.66 343.30,323.66" fill="none" stroke="#7B3C10" stroke-width="1.35" stroke-linejoin="round"/>
<circle cx="71.50" cy="339.02" r="1.4" fill="#7B3C10"/>
<circle cx="101.70" cy="340.94" r="1.4" fill="#7B3C10"/>
<circle cx="131.90" cy="344.78" r="1.4" fill="#7B3C10"/>
<circle cx="162.10" cy="344.52" r="1.4" fill="#7B3C10"/>
<circle cx="192.30" cy="344.52" r="1.4" fill="#7B3C10"/>
<circle cx="222.50" cy="330.96" r="1.4" fill="#7B3C10"/>
<circle cx="252.70" cy="317.52" r="1.4" fill="#7B3C10"/>
<circle cx="282.90" cy="321.74" r="1.4" fill="#7B3C10"/>
<circle cx="313.10" cy="323.66" r="1.4" fill="#7B3C10"/>
<circle cx="343.30" cy="323.66" r="1.4" fill="#7B3C10"/>
<polyline points="71.50,340.94 101.70,342.86 131.90,337.87 162.10,325.58 192.30,323.66 222.50,324.05 252.70,335.18 282.90,335.95 313.10,332.88 343.30,327.50" fill="none" stroke="#70AD47" stroke-width="1.35" stroke-linejoin="round"/>
<circle cx="71.50" cy="340.94" r="1.4" fill="#70AD47"/>
<circle cx="101.70" cy="342.86" r="1.4" fill="#70AD47"/>
<circle cx="131.90" cy="337.87" r="1.4" fill="#70AD47"/>
<circle cx="162.10" cy="325.58" r="1.4" fill="#70AD47"/>
<circle cx="192.30" cy="323.66" r="1.4" fill="#70AD47"/>
<circle cx="222.50" cy="324.05" r="1.4" fill="#70AD47"/>
<circle cx="252.70" cy="335.18" r="1.4" fill="#70AD47"/>
<circle cx="282.90" cy="335.95" r="1.4" fill="#70AD47"/>
<circle cx="313.10" cy="332.88" r="1.4" fill="#70AD47"/>
<circle cx="343.30" cy="327.50" r="1.4" fill="#70AD47"/>
<line x1="419.0" y1="30.0" x2="419.0" y2="118.6" stroke="#111" stroke-width="1.1"/>
<line x1="418.4" y1="118" x2="506.6" y2="118" stroke="#111" stroke-width="1.1"/>
<line x1="415.2" y1="118.0" x2="419.0" y2="118.0" stroke="#111" stroke-width="0.9"/>
<text x="414.40" y="120.50" font-size="6.6" text-anchor="end" font-weight="bold" font-style="normal" fill="#111">0</text>
<line x1="415.2" y1="100.5" x2="419.0" y2="100.5" stroke="#111" stroke-width="0.9"/>
<text x="414.40" y="103.00" font-size="6.6" text-anchor="end" font-weight="bold" font-style="normal" fill="#111">2</text>
<line x1="415.2" y1="83.0" x2="419.0" y2="83.0" stroke="#111" stroke-width="0.9"/>
<text x="414.40" y="85.50" font-size="6.6" text-anchor="end" font-weight="bold" font-style="normal" fill="#111">4</text>
<line x1="415.2" y1="65.5" x2="419.0" y2="65.5" stroke="#111" stroke-width="0.9"/>
<text x="414.40" y="68.00" font-size="6.6" text-anchor="end" font-weight="bold" font-style="normal" fill="#111">6</text>
<line x1="415.2" y1="48.0" x2="419.0" y2="48.0" stroke="#111" stroke-width="0.9"/>
<text x="414.40" y="50.50" font-size="6.6" text-anchor="end" font-weight="bold" font-style="normal" fill="#111">8</text>
<line x1="415.2" y1="30.5" x2="419.0" y2="30.5" stroke="#111" stroke-width="0.9"/>
<text x="414.40" y="33.00" font-size="6.6" text-anchor="end" font-weight="bold" font-style="normal" fill="#111">10</text>
<text x="401.40" y="73.90" font-size="7" text-anchor="middle" font-weight="bold" font-style="normal" fill="#111" textLength="38.5" lengthAdjust="spacingAndGlyphs" transform="rotate(-90 401.40 73.90)" dominant-baseline="central">MIC50 (µM)</text>
<line x1="430.1" y1="118" x2="430.1" y2="121" stroke="#111" stroke-width="1"/>
<text x="431.60" y="128.50" font-size="6.8" text-anchor="end" font-weight="bold" font-style="normal" fill="#111" transform="rotate(-45 431.60 128.50)">LL-37</text>
<line x1="446.5" y1="118" x2="446.5" y2="121" stroke="#111" stroke-width="1"/>
<text x="448.00" y="128.50" font-size="6.8" text-anchor="end" font-weight="bold" font-style="normal" fill="#111" transform="rotate(-45 448.00 128.50)">Ex12</text>
<line x1="462.90000000000003" y1="118" x2="462.90000000000003" y2="121" stroke="#111" stroke-width="1"/>
<text x="464.40" y="128.50" font-size="6.8" text-anchor="end" font-weight="bold" font-style="normal" fill="#111" transform="rotate(-45 464.40 128.50)">Ex3</text>
<line x1="479.3" y1="118" x2="479.3" y2="121" stroke="#111" stroke-width="1"/>
<text x="480.80" y="128.50" font-size="6.8" text-anchor="end" font-weight="bold" font-style="normal" fill="#111" transform="rotate(-45 480.80 128.50)">Ex23</text>
<line x1="495.70000000000005" y1="118" x2="495.70000000000005" y2="121" stroke="#111" stroke-width="1"/>
<text x="497.20" y="128.50" font-size="6.8" text-anchor="end" font-weight="bold" font-style="normal" fill="#111" transform="rotate(-45 497.20 128.50)">CLEC3A</text>
<line x1="430.5" y1="103.5625" x2="430.5" y2="104.9625" stroke="#111" stroke-width="0.9"/>
<line x1="428.1" y1="103.5625" x2="432.1" y2="103.5625" stroke="#111" stroke-width="0.8"/>
<rect x="425.40000000000003" y="105.5625" width="9.4" height="12.437499999999995" fill="#777777" stroke="#111" stroke-width="1.3"/>
<circle cx="427.1" cy="106.625" r="2.05" fill="#111"/>
<circle cx="433.6" cy="104.0" r="2.05" fill="#111"/>
<circle cx="430.1" cy="104.4375" r="2.05" fill="#111"/>
<line x1="446.5" y1="98.225" x2="446.5" y2="100.4125" stroke="#111" stroke-width="0.9"/>
<line x1="444.5" y1="98.225" x2="448.5" y2="98.225" stroke="#111" stroke-width="0.8"/>
<rect x="441.8" y="101.01249999999999" width="9.4" height="16.987500000000004" fill="#e4e4e4" stroke="#111" stroke-width="1.3"/>
<circle cx="443.5" cy="101.375" r="2.05" fill="#111"/>
<circle cx="450.0" cy="101.8125" r="2.05" fill="#111"/>
<circle cx="446.5" cy="97.0875" r="2.05" fill="#111"/>
<text x="446.50" y="90.00" font-size="7" text-anchor="middle" font-weight="normal" font-style="normal" fill="#222" stroke="#222" stroke-width="0.12">ns</text>
<line x1="462.5" y1="77.925" x2="462.5" y2="80.025" stroke="#111" stroke-width="0.9"/>
<line x1="460.90000000000003" y1="77.925" x2="464.90000000000003" y2="77.925" stroke="#111" stroke-width="0.8"/>
<rect x="458.20000000000005" y="80.625" width="9.4" height="37.37499999999999" fill="#cccccc" stroke="#111" stroke-width="1.3"/>
<circle cx="459.90000000000003" cy="81.25" r="2.05" fill="#111"/>
<circle cx="466.40000000000003" cy="81.6875" r="2.05" fill="#111"/>
<circle cx="462.90000000000003" cy="76.9625" r="2.05" fill="#111"/>
<text x="462.90" y="64.60" font-size="7.6" text-anchor="middle" font-weight="normal" font-style="normal" fill="#222" stroke="#222" stroke-width="0.3">**</text>
<line x1="479.5" y1="103.7375" x2="479.5" y2="105.925" stroke="#111" stroke-width="0.9"/>
<line x1="477.3" y1="103.7375" x2="481.3" y2="103.7375" stroke="#111" stroke-width="0.8"/>
<rect x="474.6" y="106.52499999999999" width="9.4" height="11.475000000000003" fill="#bdbdbd" stroke="#111" stroke-width="1.3"/>
<circle cx="476.3" cy="103.3" r="2.05" fill="#111"/>
<circle cx="482.8" cy="107.5" r="2.05" fill="#111"/>
<circle cx="479.3" cy="106.8875" r="2.05" fill="#111"/>
<text x="479.30" y="91.50" font-size="7" text-anchor="middle" font-weight="normal" font-style="normal" fill="#222" stroke="#222" stroke-width="0.12">ns</text>
<rect x="491.00000000000006" y="115.3625" width="9.4" height="2.637499999999997" fill="#999999" stroke="#111" stroke-width="1.3"/>
<circle cx="492.50000000000006" cy="114.7625" r="2.05" fill="#111"/>
<circle cx="495.70000000000005" cy="114.675" r="2.05" fill="#111"/>
<circle cx="498.90000000000003" cy="114.85" r="2.05" fill="#111"/>
<text x="495.70" y="102.20" font-size="7.6" text-anchor="middle" font-weight="normal" font-style="normal" fill="#222" stroke="#222" stroke-width="0.3">*</text>
<line x1="420.1" y1="176.5" x2="420.1" y2="263.6" stroke="#111" stroke-width="1.1"/>
<line x1="419.5" y1="263" x2="505.4" y2="263" stroke="#111" stroke-width="1.1"/>
<line x1="416.3" y1="263.0" x2="420.1" y2="263.0" stroke="#111" stroke-width="0.9"/>
<text x="415.50" y="265.50" font-size="6.6" text-anchor="end" font-weight="bold" font-style="normal" fill="#111">0</text>
<line x1="416.3" y1="245.8" x2="420.1" y2="245.8" stroke="#111" stroke-width="0.9"/>
<text x="415.50" y="248.30" font-size="6.6" text-anchor="end" font-weight="bold" font-style="normal" fill="#111">2</text>
<line x1="416.3" y1="228.6" x2="420.1" y2="228.6" stroke="#111" stroke-width="0.9"/>
<text x="415.50" y="231.10" font-size="6.6" text-anchor="end" font-weight="bold" font-style="normal" fill="#111">4</text>
<line x1="416.3" y1="211.4" x2="420.1" y2="211.4" stroke="#111" stroke-width="0.9"/>
<text x="415.50" y="213.90" font-size="6.6" text-anchor="end" font-weight="bold" font-style="normal" fill="#111">6</text>
<line x1="416.3" y1="194.2" x2="420.1" y2="194.2" stroke="#111" stroke-width="0.9"/>
<text x="415.50" y="196.70" font-size="6.6" text-anchor="end" font-weight="bold" font-style="normal" fill="#111">8</text>
<line x1="416.3" y1="177.0" x2="420.1" y2="177.0" stroke="#111" stroke-width="0.9"/>
<text x="415.50" y="179.50" font-size="6.6" text-anchor="end" font-weight="bold" font-style="normal" fill="#111">10</text>
<text x="401.60" y="219.90" font-size="7" text-anchor="middle" font-weight="bold" font-style="normal" fill="#111" textLength="38.5" lengthAdjust="spacingAndGlyphs" transform="rotate(-90 401.60 219.90)" dominant-baseline="central">MIC50 (µM)</text>
<line x1="430.4" y1="263" x2="430.4" y2="266" stroke="#111" stroke-width="1"/>
<text x="431.90" y="273.50" font-size="6.8" text-anchor="end" font-weight="bold" font-style="normal" fill="#111" transform="rotate(-45 431.90 273.50)">LL-37</text>
<line x1="446.7" y1="263" x2="446.7" y2="266" stroke="#111" stroke-width="1"/>
<text x="448.20" y="273.50" font-size="6.8" text-anchor="end" font-weight="bold" font-style="normal" fill="#111" transform="rotate(-45 448.20 273.50)">Ex12</text>
<line x1="463.0" y1="263" x2="463.0" y2="266" stroke="#111" stroke-width="1"/>
<text x="464.50" y="273.50" font-size="6.8" text-anchor="end" font-weight="bold" font-style="normal" fill="#111" transform="rotate(-45 464.50 273.50)">Ex3</text>
<line x1="479.29999999999995" y1="263" x2="479.29999999999995" y2="266" stroke="#111" stroke-width="1"/>
<text x="480.80" y="273.50" font-size="6.8" text-anchor="end" font-weight="bold" font-style="normal" fill="#111" transform="rotate(-45 480.80 273.50)">Ex23</text>
<line x1="495.59999999999997" y1="263" x2="495.59999999999997" y2="266" stroke="#111" stroke-width="1"/>
<text x="497.10" y="273.50" font-size="6.8" text-anchor="end" font-weight="bold" font-style="normal" fill="#111" transform="rotate(-45 497.10 273.50)">CLEC3A</text>
<line x1="430.5" y1="251.648" x2="430.5" y2="255.948" stroke="#111" stroke-width="0.9"/>
<line x1="428.4" y1="251.648" x2="432.4" y2="251.648" stroke="#111" stroke-width="0.8"/>
<rect x="425.7" y="256.548" width="9.4" height="6.451999999999993" fill="#808080" stroke="#111" stroke-width="1.3"/>
<circle cx="430.4" cy="250.1" r="2.05" fill="#111"/>
<circle cx="430.4" cy="260.42" r="2.05" fill="#111"/>
<circle cx="430.4" cy="257.41" r="2.05" fill="#111"/>
<line x1="446.5" y1="250.96" x2="446.5" y2="251.39" stroke="#111" stroke-width="0.9"/>
<line x1="444.7" y1="250.96" x2="448.7" y2="250.96" stroke="#111" stroke-width="0.8"/>
<rect x="442.0" y="251.98999999999998" width="9.4" height="11.010000000000014" fill="#b0b0b0" stroke="#111" stroke-width="1.3"/>
<circle cx="443.7" cy="251.39" r="2.05" fill="#111"/>
<circle cx="446.7" cy="250.96" r="2.05" fill="#111"/>
<circle cx="449.9" cy="251.39" r="2.05" fill="#111"/>
<text x="446.70" y="242.50" font-size="7" text-anchor="middle" font-weight="normal" font-style="normal" fill="#222" stroke="#222" stroke-width="0.12">ns</text>
<line x1="463.5" y1="191.62" x2="463.5" y2="221.462" stroke="#111" stroke-width="0.9"/>
<line x1="461.0" y1="191.62" x2="465.0" y2="191.62" stroke="#111" stroke-width="0.8"/>
<rect x="458.3" y="222.06199999999998" width="9.4" height="40.93800000000001" fill="#747474" stroke="#111" stroke-width="1.3"/>
<circle cx="463.0" cy="223.87" r="2.05" fill="#111"/>
<circle cx="463.0" cy="249.24" r="2.05" fill="#111"/>
<circle cx="463.0" cy="191.62" r="2.05" fill="#111"/>
<text x="463.00" y="182.00" font-size="7" text-anchor="middle" font-weight="normal" font-style="normal" fill="#222" stroke="#222" stroke-width="0.12">ns</text>
<line x1="479.5" y1="241.07" x2="479.5" y2="244.07999999999998" stroke="#111" stroke-width="0.9"/>
<line x1="477.29999999999995" y1="241.07" x2="481.29999999999995" y2="241.07" stroke="#111" stroke-width="0.8"/>
<rect x="474.59999999999997" y="244.67999999999998" width="9.4" height="18.320000000000014" fill="#e2e2e2" stroke="#111" stroke-width="1.3"/>
<circle cx="479.29999999999995" cy="239.522" r="2.05" fill="#111"/>
<circle cx="476.29999999999995" cy="245.8" r="2.05" fill="#111"/>
<circle cx="482.49999999999994" cy="245.8" r="2.05" fill="#111"/>
<text x="479.30" y="201.50" font-size="7" text-anchor="middle" font-weight="normal" font-style="normal" fill="#222" stroke="#222" stroke-width="0.12">ns</text>
<text x="494.10" y="256.50" font-size="7" text-anchor="middle" font-weight="normal" font-style="normal" fill="#222" stroke="#222" stroke-width="0.12">na</text>
<line x1="418.6" y1="312.9" x2="418.6" y2="400.0" stroke="#111" stroke-width="1.1"/>
<line x1="418.0" y1="399.4" x2="505.6" y2="399.4" stroke="#111" stroke-width="1.1"/>
<line x1="414.8" y1="399.4" x2="418.6" y2="399.4" stroke="#111" stroke-width="0.9"/>
<text x="414.00" y="401.90" font-size="6.6" text-anchor="end" font-weight="bold" font-style="normal" fill="#111">0</text>
<line x1="414.8" y1="382.2" x2="418.6" y2="382.2" stroke="#111" stroke-width="0.9"/>
<text x="414.00" y="384.70" font-size="6.6" text-anchor="end" font-weight="bold" font-style="normal" fill="#111">2</text>
<line x1="414.8" y1="365.0" x2="418.6" y2="365.0" stroke="#111" stroke-width="0.9"/>
<text x="414.00" y="367.50" font-size="6.6" text-anchor="end" font-weight="bold" font-style="normal" fill="#111">4</text>
<line x1="414.8" y1="347.79999999999995" x2="418.6" y2="347.79999999999995" stroke="#111" stroke-width="0.9"/>
<text x="414.00" y="350.30" font-size="6.6" text-anchor="end" font-weight="bold" font-style="normal" fill="#111">6</text>
<line x1="414.8" y1="330.59999999999997" x2="418.6" y2="330.59999999999997" stroke="#111" stroke-width="0.9"/>
<text x="414.00" y="333.10" font-size="6.6" text-anchor="end" font-weight="bold" font-style="normal" fill="#111">8</text>
<line x1="414.8" y1="313.4" x2="418.6" y2="313.4" stroke="#111" stroke-width="0.9"/>
<text x="414.00" y="315.90" font-size="6.6" text-anchor="end" font-weight="bold" font-style="normal" fill="#111">10</text>
<text x="401.50" y="355.70" font-size="7" text-anchor="middle" font-weight="bold" font-style="normal" fill="#111" textLength="38.5" lengthAdjust="spacingAndGlyphs" transform="rotate(-90 401.50 355.70)" dominant-baseline="central">MIC50 (µM)</text>
<line x1="429.6" y1="399.4" x2="429.6" y2="402.4" stroke="#111" stroke-width="1"/>
<text x="431.10" y="409.90" font-size="6.8" text-anchor="end" font-weight="bold" font-style="normal" fill="#111" transform="rotate(-45 431.10 409.90)">LL-37</text>
<line x1="445.8" y1="399.4" x2="445.8" y2="402.4" stroke="#111" stroke-width="1"/>
<text x="447.30" y="409.90" font-size="6.8" text-anchor="end" font-weight="bold" font-style="normal" fill="#111" transform="rotate(-45 447.30 409.90)">Ex12</text>
<line x1="462.0" y1="399.4" x2="462.0" y2="402.4" stroke="#111" stroke-width="1"/>
<text x="463.50" y="409.90" font-size="6.8" text-anchor="end" font-weight="bold" font-style="normal" fill="#111" transform="rotate(-45 463.50 409.90)">Ex3</text>
<line x1="478.20000000000005" y1="399.4" x2="478.20000000000005" y2="402.4" stroke="#111" stroke-width="1"/>
<text x="479.70" y="409.90" font-size="6.8" text-anchor="end" font-weight="bold" font-style="normal" fill="#111" transform="rotate(-45 479.70 409.90)">Ex23</text>
<line x1="494.40000000000003" y1="399.4" x2="494.40000000000003" y2="402.4" stroke="#111" stroke-width="1"/>
<text x="495.90" y="409.90" font-size="6.8" text-anchor="end" font-weight="bold" font-style="normal" fill="#111" transform="rotate(-45 495.90 409.90)">CLEC3A</text>
<line x1="429.5" y1="384.436" x2="429.5" y2="388.13399999999996" stroke="#111" stroke-width="0.9"/>
<line x1="427.6" y1="384.436" x2="431.6" y2="384.436" stroke="#111" stroke-width="0.8"/>
<rect x="424.90000000000003" y="388.734" width="9.4" height="10.66600000000002" fill="#6f6f6f" stroke="#111" stroke-width="1.3"/>
<circle cx="425.6" cy="384.436" r="2.05" fill="#111"/>
<circle cx="429.6" cy="392.00399999999996" r="2.05" fill="#111"/>
<circle cx="433.0" cy="387.618" r="2.05" fill="#111"/>
<line x1="445.5" y1="380.82399999999996" x2="445.5" y2="381.68399999999997" stroke="#111" stroke-width="0.9"/>
<line x1="443.8" y1="380.82399999999996" x2="447.8" y2="380.82399999999996" stroke="#111" stroke-width="0.8"/>
<rect x="441.1" y="382.284" width="9.4" height="17.116000000000007" fill="#ababab" stroke="#111" stroke-width="1.3"/>
<circle cx="442.8" cy="382.2" r="2.05" fill="#111"/>
<circle cx="445.8" cy="380.90999999999997" r="2.05" fill="#111"/>
<circle cx="449.2" cy="381.77" r="2.05" fill="#111"/>
<text x="445.80" y="372.80" font-size="7.6" text-anchor="middle" font-weight="normal" font-style="normal" fill="#222" stroke="#222" stroke-width="0.3">*</text>
<text x="462.60" y="392.90" font-size="7" text-anchor="middle" font-weight="normal" font-style="normal" fill="#222" stroke="#222" stroke-width="0.12">na</text>
<text x="478.80" y="392.90" font-size="7" text-anchor="middle" font-weight="normal" font-style="normal" fill="#222" stroke="#222" stroke-width="0.12">na</text>
<text x="495.70" y="392.90" font-size="7" text-anchor="middle" font-weight="normal" font-style="normal" fill="#222" stroke="#222" stroke-width="0.12">na</text>
<text x="528.40" y="16.95" font-size="7" text-anchor="middle" font-weight="bold" font-style="normal" fill="#111" textLength="37.7" lengthAdjust="spacingAndGlyphs">MIC50 (µM)</text>
<text x="528.40" y="33.27" font-size="7" text-anchor="middle" font-weight="bold" font-style="normal" fill="#111" stroke="#111" stroke-width="0.12">LL-37 =</text>
<text x="528.40" y="41.56" font-size="7" text-anchor="middle" font-weight="bold" font-style="normal" fill="#111" stroke="#111" stroke-width="0.12">1.49 ± 0.15</text>
<text x="528.40" y="49.85" font-size="7" text-anchor="middle" font-weight="bold" font-style="normal" fill="#111" stroke="#111" stroke-width="0.12">Ex12 =</text>
<text x="528.40" y="58.14" font-size="7" text-anchor="middle" font-weight="bold" font-style="normal" fill="#111" stroke="#111" stroke-width="0.12">2.01 ± 0.25</text>
<text x="528.40" y="66.43" font-size="7" text-anchor="middle" font-weight="bold" font-style="normal" fill="#111" stroke="#111" stroke-width="0.12">Ex3 =</text>
<text x="528.40" y="74.72" font-size="7" text-anchor="middle" font-weight="bold" font-style="normal" fill="#111" stroke="#111" stroke-width="0.12">4.34 ± 0.24</text>
<text x="528.40" y="83.01" font-size="7" text-anchor="middle" font-weight="bold" font-style="normal" fill="#111" stroke="#111" stroke-width="0.12">Ex23 =</text>
<text x="528.40" y="91.30" font-size="7" text-anchor="middle" font-weight="bold" font-style="normal" fill="#111" stroke="#111" stroke-width="0.12">1.38 ± 0.25</text>
<text x="528.40" y="99.59" font-size="7" text-anchor="middle" font-weight="bold" font-style="normal" fill="#111" stroke="#111" stroke-width="0.12">CLEC3A =</text>
<text x="528.40" y="107.88" font-size="7" text-anchor="middle" font-weight="bold" font-style="normal" fill="#111" stroke="#111" stroke-width="0.12">0.37 ± 0.01</text>
<text x="527.40" y="183.80" font-size="7" text-anchor="middle" font-weight="bold" font-style="normal" fill="#111" textLength="36.8" lengthAdjust="spacingAndGlyphs">MIC50 (µM)</text>
<text x="527.20" y="198.92" font-size="7" text-anchor="middle" font-weight="bold" font-style="normal" fill="#111" stroke="#111" stroke-width="0.12">LL-37 =</text>
<text x="527.20" y="207.52" font-size="7" text-anchor="middle" font-weight="bold" font-style="normal" fill="#111" stroke="#111" stroke-width="0.12">0.82 ± 0.5</text>
<text x="527.20" y="215.92" font-size="7" text-anchor="middle" font-weight="bold" font-style="normal" fill="#111" stroke="#111" stroke-width="0.12">Ex12 =</text>
<text x="527.20" y="224.02" font-size="7" text-anchor="middle" font-weight="bold" font-style="normal" fill="#111" stroke="#111" stroke-width="0.12">1.35 ± 0.05</text>
<text x="527.20" y="232.12" font-size="7" text-anchor="middle" font-weight="bold" font-style="normal" fill="#111" stroke="#111" stroke-width="0.12">Ex3 =</text>
<text x="527.20" y="240.32" font-size="7" text-anchor="middle" font-weight="bold" font-style="normal" fill="#111" stroke="#111" stroke-width="0.12">4.83 ± 2.76</text>
<text x="527.20" y="248.42" font-size="7" text-anchor="middle" font-weight="bold" font-style="normal" fill="#111" stroke="#111" stroke-width="0.12">Ex23 =</text>
<text x="527.20" y="256.32" font-size="7" text-anchor="middle" font-weight="bold" font-style="normal" fill="#111" stroke="#111" stroke-width="0.12">2.2 ± 0.35</text>
<text x="509.80" y="352.80" font-size="7" text-anchor="start" font-weight="bold" font-style="normal" fill="#111" textLength="37.9" lengthAdjust="spacingAndGlyphs">MIC50 (µM)</text>
<text x="509.80" y="369.92" font-size="7" text-anchor="start" font-weight="bold" font-style="normal" fill="#111" stroke="#111" stroke-width="0.12">LL-37 =</text>
<text x="509.80" y="378.02" font-size="7" text-anchor="start" font-weight="bold" font-style="normal" fill="#111" stroke="#111" stroke-width="0.12">1.31 ± 0.33</text>
<text x="509.80" y="385.82" font-size="7" text-anchor="start" font-weight="bold" font-style="normal" fill="#111" stroke="#111" stroke-width="0.12">Ex12 =</text>
<text x="509.80" y="394.32" font-size="7" text-anchor="start" font-weight="bold" font-style="normal" fill="#111" stroke="#111" stroke-width="0.12">2.06 ± 0.1</text>
<text x="2.40" y="10.90" font-size="10.2" text-anchor="start" font-weight="normal" font-style="normal" fill="#000">A</text>
<text x="2.00" y="145.00" font-size="10.2" text-anchor="start" font-weight="normal" font-style="normal" fill="#000">B</text>
<text x="2.60" y="289.80" font-size="10.2" text-anchor="start" font-weight="normal" font-style="normal" fill="#000">C</text>
<text x="14.00" y="77.10" font-size="11" text-anchor="middle" font-weight="normal" font-style="italic" fill="#111" textLength="65" lengthAdjust="spacingAndGlyphs" transform="rotate(-90 14.00 77.10)">P. aeruginosa</text>
<text x="15.00" y="212.00" font-size="11" text-anchor="middle" font-weight="normal" font-style="italic" fill="#111" textLength="45" lengthAdjust="spacingAndGlyphs" transform="rotate(-90 15.00 212.00)">S. aureus</text>
<text x="16.50" y="354.10" font-size="11.5" text-anchor="middle" font-weight="normal" font-style="italic" fill="#111" textLength="33.5" lengthAdjust="spacingAndGlyphs" transform="rotate(-90 16.50 354.10)">MRSA</text>
</svg></body></html>
